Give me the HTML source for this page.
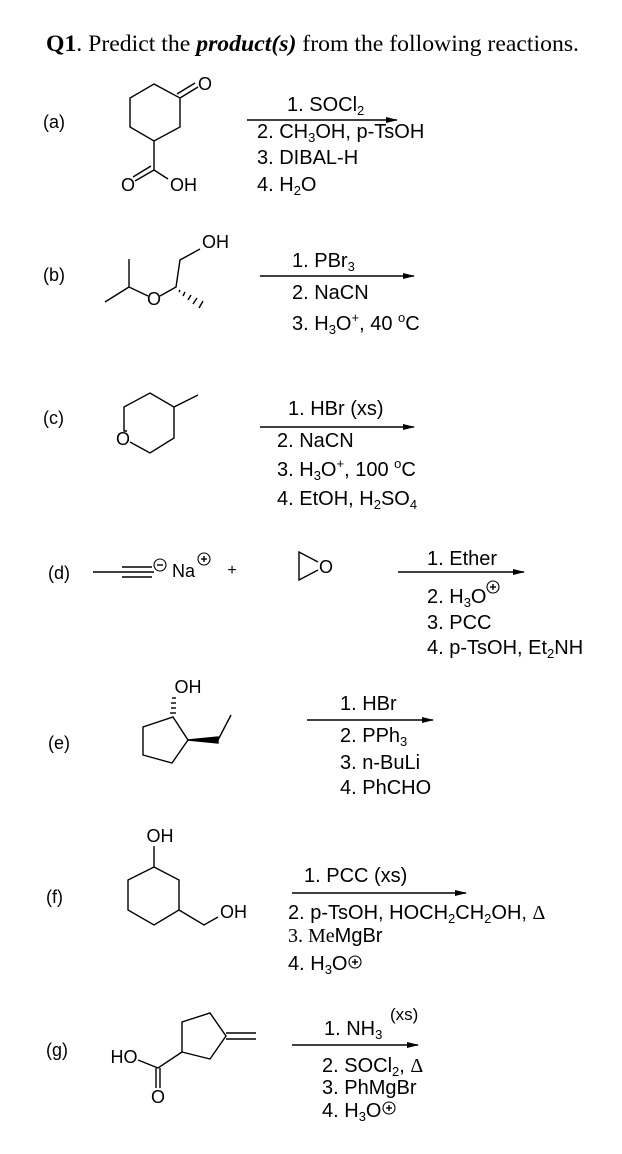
<!DOCTYPE html>
<html><head><meta charset="utf-8"><style>
html,body{margin:0;padding:0;background:#fff;}
svg{display:block;}
.t{font-family:"Liberation Sans",Arial,sans-serif;font-size:20px;fill:#000;}
.a{font-family:"Liberation Sans",Arial,sans-serif;font-size:18px;fill:#000;}
.l{font-family:"Liberation Sans",Arial,sans-serif;font-size:18px;fill:#000;}
.s{font-size:13px;}
line,polyline,polygon,path{stroke:#000;stroke-width:1.4;fill:none;}
</style></head><body>
<svg width="622" height="1154" viewBox="0 0 622 1154" xmlns="http://www.w3.org/2000/svg">
<defs><marker id="ah" markerWidth="12" markerHeight="8" refX="11" refY="4" orient="auto" markerUnits="userSpaceOnUse"><path d="M0,1 L12,4 L0,7 Z" style="fill:#000;stroke:none"/></marker></defs>
<text x="46" y="51" style="font-family:'Liberation Serif','Times New Roman',serif;font-size:23px" textLength="533" lengthAdjust="spacingAndGlyphs"><tspan font-weight="bold">Q1</tspan>. Predict the <tspan font-weight="bold" font-style="italic">product(s)</tspan> from the following reactions.</text>

<!-- (a) -->
<text class="l" x="43" y="128">(a)</text>
<polygon points="154,84 180,98 180,127 154,141 130,127 130,98"/>
<line x1="180" y1="98" x2="198" y2="87"/><line x1="177" y1="94" x2="195" y2="83"/>
<text class="a" x="205" y="84" text-anchor="middle" dominant-baseline="central">O</text>
<line x1="154" y1="141" x2="154" y2="170"/>
<line x1="154" y1="170" x2="135" y2="181"/><line x1="151" y1="166" x2="133" y2="177"/>
<text class="a" x="128" y="185" text-anchor="middle" dominant-baseline="central">O</text>
<line x1="154" y1="170" x2="168" y2="179"/>
<text class="a" x="170" y="185" dominant-baseline="central">OH</text>
<line x1="247" y1="120" x2="397" y2="120" marker-end="url(#ah)"/>
<text class="t" x="287" y="111">1. SOCl<tspan class="s" dy="4">2</tspan></text>
<text class="t" x="257" y="138">2. CH<tspan class="s" dy="4">3</tspan><tspan dy="-4">OH, p-TsOH</tspan></text>
<text class="t" x="257" y="164">3. DIBAL-H</text>
<text class="t" x="257" y="191">4. H<tspan class="s" dy="4">2</tspan><tspan dy="-4">O</tspan></text>

<!-- (b) -->
<text class="l" x="43" y="281">(b)</text>
<polyline points="105,302 129,287 148,296"/>
<line x1="129" y1="287" x2="129" y2="259"/>
<text class="a" x="154" y="299" text-anchor="middle" dominant-baseline="central">O</text>
<polyline points="160,296 176,287 180,260 200,249"/>
<text class="a" x="202" y="242" dominant-baseline="central">OH</text>
<g stroke-width="1"><line x1="180" y1="290" x2="179" y2="292"/><line x1="185" y1="292" x2="183" y2="296"/><line x1="191" y1="295" x2="188" y2="300"/><line x1="197" y1="298" x2="193" y2="304"/><line x1="203" y1="301" x2="199" y2="308"/></g>
<line x1="260" y1="276" x2="414" y2="276" marker-end="url(#ah)"/>
<text class="t" x="292" y="267">1. PBr<tspan class="s" dy="4">3</tspan></text>
<text class="t" x="292" y="299">2. NaCN</text>
<text class="t" x="292" y="330">3. H<tspan class="s" dy="4">3</tspan><tspan dy="-4">O</tspan><tspan class="s" dy="-8">+</tspan><tspan dy="8">, 40 </tspan><tspan class="s" dy="-8">o</tspan><tspan dy="8">C</tspan></text>

<!-- (c) -->
<text class="l" x="43" y="424">(c)</text>
<polyline points="127,431 124,431 124,407 150,393 174,407 174,438 150,453 130,442"/>
<line x1="174" y1="407" x2="198" y2="395"/>
<text class="a" x="123" y="439" text-anchor="middle" dominant-baseline="central">O</text>
<line x1="260" y1="427" x2="414" y2="427" marker-end="url(#ah)"/>
<text class="t" x="288" y="415">1. HBr (xs)</text>
<text class="t" x="277" y="447">2. NaCN</text>
<text class="t" x="277" y="476">3. H<tspan class="s" dy="4">3</tspan><tspan dy="-4">O</tspan><tspan class="s" dy="-8">+</tspan><tspan dy="8">, 100 </tspan><tspan class="s" dy="-8">o</tspan><tspan dy="8">C</tspan></text>
<text class="t" x="277" y="505">4. EtOH, H<tspan class="s" dy="4">2</tspan><tspan dy="-4">SO</tspan><tspan class="s" dy="4">4</tspan></text>

<!-- (d) -->
<text class="l" x="48" y="579">(d)</text>
<line x1="93" y1="572" x2="154" y2="572"/>
<line x1="122" y1="567" x2="152" y2="567"/><line x1="122" y1="577" x2="152" y2="577"/>
<circle cx="160" cy="565" r="6" style="stroke:#000;stroke-width:1.1;fill:none"/>
<line x1="157" y1="565" x2="163" y2="565" stroke-width="1.1"/>
<text class="a" x="172" y="577">Na</text>
<circle cx="204" cy="559" r="6" style="stroke:#000;stroke-width:1.1;fill:none"/>
<line x1="201" y1="559" x2="207" y2="559" stroke-width="1.1"/><line x1="204" y1="556" x2="204" y2="562" stroke-width="1.1"/>
<text class="a" x="232" y="575" text-anchor="middle" style="font-size:16px">+</text>
<polyline points="318,562 299,552 299,580 318,570"/>
<text class="a" x="326" y="567" text-anchor="middle" dominant-baseline="central">O</text>
<line x1="398" y1="572" x2="524" y2="572" marker-end="url(#ah)"/>
<text class="t" x="427" y="565">1. Ether</text>
<text class="t" x="427" y="603">2. H<tspan class="s" dy="4">3</tspan><tspan dy="-4">O</tspan></text>
<circle cx="493" cy="587" r="6" style="stroke:#000;stroke-width:1.1;fill:none"/>
<line x1="490" y1="587" x2="496" y2="587" stroke-width="1.1"/><line x1="493" y1="584" x2="493" y2="590" stroke-width="1.1"/>
<text class="t" x="427" y="629">3. PCC</text>
<text class="t" x="427" y="654">4. p-TsOH, Et<tspan class="s" dy="4">2</tspan><tspan dy="-4">NH</tspan></text>

<!-- (e) -->
<text class="l" x="48" y="749">(e)</text>
<text class="a" x="188" y="687" text-anchor="middle" dominant-baseline="central">OH</text>
<g stroke-width="1"><line x1="172" y1="698" x2="176" y2="698"/><line x1="171" y1="703" x2="176" y2="703"/><line x1="171" y1="708" x2="176" y2="708"/><line x1="170" y1="713" x2="176" y2="713"/></g>
<polygon points="173,717 188,740 172,763 143,755 143,727"/>
<polygon points="188,740 218,737 218,743" style="fill:#000"/>
<line x1="218" y1="740" x2="231" y2="715"/>
<line x1="307" y1="720" x2="433" y2="720" marker-end="url(#ah)"/>
<text class="t" x="340" y="710">1. HBr</text>
<text class="t" x="340" y="742">2. PPh<tspan class="s" dy="4">3</tspan></text>
<text class="t" x="340" y="769">3. n-BuLi</text>
<text class="t" x="340" y="794">4. PhCHO</text>

<!-- (f) -->
<text class="l" x="46" y="903">(f)</text>
<text class="a" x="160" y="836" text-anchor="middle" dominant-baseline="central">OH</text>
<line x1="154" y1="846" x2="154" y2="867"/>
<polygon points="154,867 179,880 179,910 154,925 128,910 128,880"/>
<polyline points="179,910 204,925 218,917"/>
<text class="a" x="220" y="912" dominant-baseline="central">OH</text>
<line x1="292" y1="893" x2="466" y2="893" marker-end="url(#ah)"/>
<text class="t" x="304" y="882">1. PCC (xs)</text>
<text class="t" x="288" y="919">2. p-TsOH, HOCH<tspan class="s" dy="4">2</tspan><tspan dy="-4">CH</tspan><tspan class="s" dy="4">2</tspan><tspan dy="-4">OH, </tspan><tspan style="font-family:'Liberation Serif',serif">Δ</tspan></text>
<text class="t" x="288" y="942"><tspan style="font-family:'Liberation Serif',serif">3. Me</tspan>MgBr</text>
<text class="t" x="288" y="970">4. H<tspan class="s" dy="4">3</tspan><tspan dy="-4">O</tspan></text>
<circle cx="355" cy="962" r="6" style="stroke:#000;stroke-width:1.1;fill:none"/>
<line x1="352" y1="962" x2="358" y2="962" stroke-width="1.1"/><line x1="355" y1="959" x2="355" y2="965" stroke-width="1.1"/>

<!-- (g) -->
<text class="l" x="46" y="1056">(g)</text>
<text class="a" x="124" y="1057" text-anchor="middle" dominant-baseline="central">HO</text>
<polyline points="138,1060 158,1068 182,1052"/>
<line x1="156" y1="1068" x2="156" y2="1088"/><line x1="160" y1="1068" x2="160" y2="1088"/>
<text class="a" x="158" y="1097" text-anchor="middle" dominant-baseline="central">O</text>
<polygon points="182,1052 182,1022 210,1013 226,1036 210,1059"/>
<line x1="226" y1="1033" x2="256" y2="1033"/><line x1="226" y1="1039" x2="256" y2="1039"/>
<line x1="292" y1="1045" x2="418" y2="1045" marker-end="url(#ah)"/>
<text class="t" x="324" y="1035">1. NH<tspan class="s" dy="4">3</tspan></text>
<text class="t" x="390" y="1020" style="font-size:17px">(xs)</text>
<text class="t" x="322" y="1072">2. SOCl<tspan class="s" dy="4">2</tspan><tspan dy="-4">, </tspan><tspan style="font-family:'Liberation Serif',serif">Δ</tspan></text>
<text class="t" x="322" y="1094">3. PhMgBr</text>
<text class="t" x="322" y="1117">4. H<tspan class="s" dy="4">3</tspan><tspan dy="-4">O</tspan></text>
<circle cx="389" cy="1108" r="6" style="stroke:#000;stroke-width:1.1;fill:none"/>
<line x1="386" y1="1108" x2="392" y2="1108" stroke-width="1.1"/><line x1="389" y1="1105" x2="389" y2="1111" stroke-width="1.1"/>
</svg>
</body></html>
